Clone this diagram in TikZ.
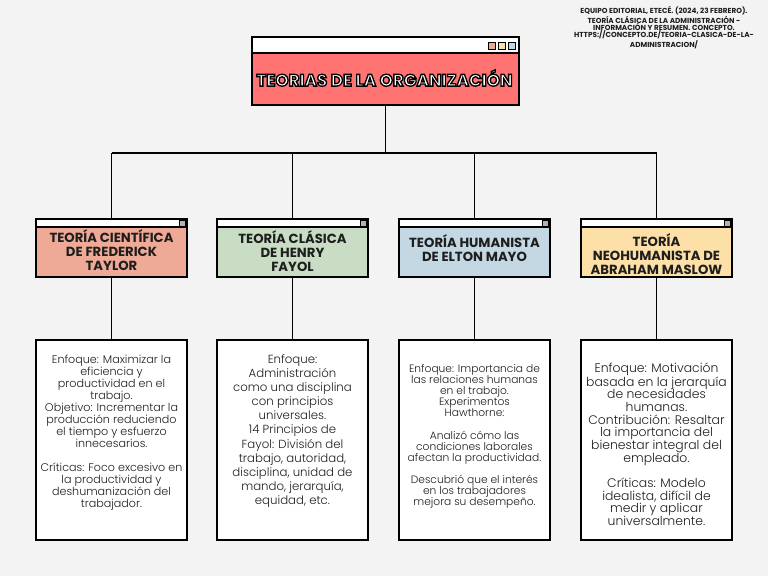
\documentclass[tikz,border=0pt]{standalone}
\usepackage{fontspec}
\setmainfont{Poppins}
\newfontfamily\bodyfont{Poppins Light}
\definecolor{bgc}{HTML}{F3F3F3}
\definecolor{mainred}{HTML}{FF7373}
\definecolor{sal}{HTML}{EFAA97}
\definecolor{grn}{HTML}{C9DDC5}
\definecolor{blu}{HTML}{C3D8E2}
\definecolor{yel}{HTML}{FDE0A7}
\definecolor{txt}{HTML}{1E1E1E}
\tikzset{
  bar/.style={draw=black, fill=white, line width=1.5pt, anchor=north west, minimum width=113.25pt, minimum height=6pt, inner sep=0pt, outer sep=0pt},
  head/.style={draw=black, line width=1.5pt, anchor=north west, minimum width=113.25pt, minimum height=37.5pt, inner sep=0pt, outer sep=0pt},
  headtext/.style={align=center, text=txt, inner sep=0pt, font=\fontsize{9.9}{10.3}\selectfont\bfseries},
  lowbox/.style={draw=black, fill=white, line width=1.5pt, anchor=north west, minimum width=113.25pt, minimum height=150pt, inner sep=0pt, outer sep=0pt},
  bodytext/.style={align=center, text=txt, inner sep=0pt},
  conn/.style={draw=black, line width=0.85pt},
  sq/.style={draw=black, line width=0.6pt, minimum size=4.5pt, inner sep=0pt, anchor=center},
  bigsq/.style={draw=black, line width=1pt, minimum size=5.2pt, inner sep=0pt, anchor=north west},
}
\begin{document}
\begin{tikzpicture}[x=0.75pt,y=-0.75pt]
\fill[bgc] (0,0) rectangle (768,576);
\useasboundingbox (0,0) rectangle (768,576);

% reference text
\node[align=center, text=txt, inner sep=0pt, font=\fontsize{5.45}{5.5}\selectfont\bfseries] (ref) at (664,27.5)
{EQUIPO EDITORIAL, ETECÉ. (2024, 23 FEBRERO).\\TEORÍA CLÁSICA DE LA ADMINISTRACIÓN -\\INFORMACIÓN Y RESUMEN. CONCEPTO.\\HTTPS://CONCEPTO.DE/TEORIA-CLASICA-DE-LA-\\ADMINISTRACION/};

% main box
\node[draw=black, fill=white, line width=1.5pt, anchor=north west, minimum width=200.25pt, minimum height=12pt, inner sep=0pt, outer sep=0pt] (mainbar) at (252,37) {};
\node[draw=black, fill=mainred, line width=1.5pt, anchor=north west, minimum width=200.25pt, minimum height=39pt, inner sep=0pt, outer sep=0pt] (main) at (252,53) {};
\node[bigsq, fill=sal] (s1) at (488,42) {};
\node[bigsq, fill=yel] (s2) at (498,42) {};
\node[bigsq, fill=blu] (s3) at (508,42) {};
\node[inner sep=0pt, text=white, font=\fontsize{12.6}{13}\selectfont\bfseries] (maintitle) at (384.5,78)
  {\special{pdf:literal direct 0 0 0 RG 1.0 w 2 Tr}TEORIAS DE LA ORGANIZACIÓN\special{pdf:literal direct 0 Tr}};

% upper boxes
\foreach \x/\c/\n in {36/sal/1, 217/grn/2, 399/blu/3, 581/yel/4}{
  \node[bar] (bar\n) at (\x,219) {};
  \node[head, fill=\c] (head\n) at (\x,227) {};
  \node[sq, fill=gray!60] (q\n) at (\x+146,223) {};
  \node[lowbox] (low\n) at (\x,340) {};
}

\node[headtext] (h1) at (111.5,250) {TEORÍA CIENTÍFICA\\DE FREDERICK\\TAYLOR};
\node[headtext] (h2) at (292.5,251) {TEORÍA CLÁSICA\\DE HENRY\\FAYOL};
\node[headtext] (h3) at (474.5,248) {TEORÍA HUMANISTA\\DE ELTON MAYO};
\node[headtext] (h4) at (656.5,254) {TEORÍA\\NEOHUMANISTA DE\\ABRAHAM MASLOW};

% connectors
\coordinate (jm) at (385.5,153);
\coordinate (j1) at (head1.center |- jm);
\coordinate (j4) at (head4.center |- jm);
\draw[conn] (main.south) -- (jm);
\draw[conn] (j1) -- (j4);
\foreach \n in {1,2,3,4}{
  \draw[conn] (bar\n.north |- jm) -- (bar\n.north);
  \draw[conn] (head\n.south) -- (low\n.north);
}

% body texts
\node[bodytext, font=\bodyfont\fontsize{8.35}{9}\selectfont] (t1) at (111.5,433)
{Enfoque: Maximizar la\\eficiencia y\\productividad en el\\trabajo.\\Objetivo: Incrementar la\\producción reduciendo\\el tiempo y esfuerzo\\innecesarios.\\\mbox{}\\Críticas: Foco excesivo en\\la productividad y\\deshumanización del\\trabajador.};
\node[bodytext, font=\bodyfont\fontsize{8.8}{10.55}\selectfont] (t2) at (292.5,431)
{Enfoque:\\Administración\\como una disciplina\\con principios\\universales.\\14 Principios de\\Fayol: División del\\trabajo, autoridad,\\disciplina, unidad de\\mando, jerarquía,\\equidad, etc.};
\node[bodytext, font=\bodyfont\fontsize{8.0}{8.35}\selectfont] (t3) at (474.5,436.5)
{Enfoque: Importancia de\\las relaciones humanas\\en el trabajo.\\Experimentos\\Hawthorne:\\\mbox{}\\Analizó cómo las\\condiciones laborales\\afectan la productividad.\\\mbox{}\\Descubrió que el interés\\en los trabajadores\\mejora su desempeño.};
\node[bodytext, font=\bodyfont\fontsize{9.3}{9.5}\selectfont] (t4) at (656.5,444)
{Enfoque: Motivación\\basada en la jerarquía\\de necesidades\\humanas.\\Contribución: Resaltar\\la importancia del\\bienestar integral del\\empleado.\\\mbox{}\\Críticas: Modelo\\idealista, difícil de\\medir y aplicar\\universalmente.};
\end{tikzpicture}
\end{document}
